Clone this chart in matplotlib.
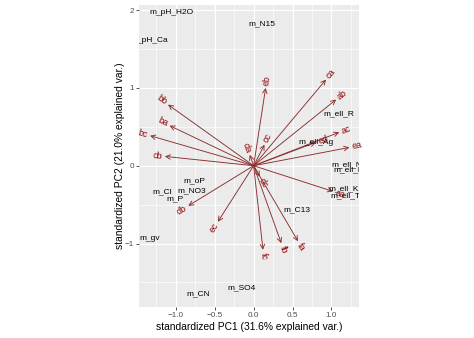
import numpy as np
import matplotlib.pyplot as plt

plt.rcParams['font.family'] = ['Liberation Sans', 'DejaVu Sans']

# sample scores (standardized PC1, PC2)
sample_names = ['m_pH_H2O', 'm_N15', 'm_pH_Ca', 'm_ell_R', 'm_ell_Ag', 'm_ell_Na',
                'm_ell_Mg', 'm_ell_K', 'm_ell_Ti', 'm_oP', 'm_Cl', 'm_NO3', 'm_P',
                'm_C13', 'm_gv', 'm_SO4', 'm_CN']
pc1 = [-1.06, 0.10, -1.336, 1.10, 0.80, 1.22, 1.26, 1.15, 1.19, -0.76, -1.18,
       -0.80, -1.01, 0.55, -1.33, -0.16, -0.71]
pc2 = [1.97, 1.83, 1.61, 0.67, 0.30, 0.013, -0.064, -0.29, -0.38, -0.19, -0.33,
       -0.32, -0.425, -0.566, -0.94, -1.57, -1.65]

# variable loadings (arrow tips)
var_names = ['bb', 'ba', 'bc', 'cb', 'db', 'ec', 'fc', 'fb', 'fa', 'aa', 'ea',
             'ac', 'ed', 'ab', 'ca', 'eb', 'cc', 'da', 'dc']
var_x = [-1.10, -1.08, -1.33, -1.14, -0.84, -0.46, 0.12, 0.355, 0.57, 1.02, 1.23,
         1.10, 0.80, 1.06, 0.93, 0.154, 0.14, -0.05, 0.08]
var_y = [0.785, 0.515, 0.386, 0.12, -0.515, -0.72, -1.08, -0.995, -0.97, -0.33,
         0.235, 0.43, 0.30, 0.85, 1.107, 1.0, 0.27, 0.14, -0.14]

fig = plt.figure(figsize=(4.74, 3.38), dpi=100)
ax = fig.add_axes([0.2932, 0.0917, 0.4641, 0.8935])
ax.set_facecolor('#EBEBEB')
ax.set_xlim(-1.47, 1.35)
ax.set_ylim(-1.815, 2.065)
ax.set_aspect('equal')

ax.set_xticks([-1.0, -0.5, 0.0, 0.5, 1.0])
ax.set_yticks([-1, 0, 1, 2])
ax.set_xticks([-1.25, -0.75, -0.25, 0.25, 0.75, 1.25], minor=True)
ax.set_yticks([-1.5, -0.5, 0.5, 1.5], minor=True)
ax.grid(which='major', color='white', lw=0.9)
ax.grid(which='minor', color='white', lw=0.45)
ax.set_axisbelow(True)
for s in ax.spines.values():
    s.set_visible(False)
ax.tick_params(which='major', length=2, width=0.6, color='#333333',
               labelsize=5.9, labelcolor='#4D4D4D', pad=1.5)
ax.tick_params(which='minor', length=0)

arrow_col = '#8A2E2E'
for vx, vy in zip(var_x, var_y):
    ax.annotate('', xy=(vx, vy), xytext=(0, 0),
                arrowprops=dict(arrowstyle='->', color=arrow_col, lw=0.65,
                                mutation_scale=8, shrinkA=0, shrinkB=0))

for name, x, y in zip(sample_names, pc1, pc2):
    ax.text(x, y, name, fontsize=6, ha='center', va='center', clip_on=True)

for name, vx, vy in zip(var_names, var_x, var_y):
    ang = np.degrees(np.arctan(vy / vx))
    d = np.arctan2(vy, vx)
    off = 2.0
    ax.annotate(name, xy=(vx, vy), xytext=(off * np.cos(d), off * np.sin(d)),
                textcoords='offset points', color='darkred', fontsize=6.5,
                rotation=ang, rotation_mode='anchor',
                ha='left' if vx > 0 else 'right', va='center',
                annotation_clip=True)

ax.set_xlabel('standardized PC1 (31.6% explained var.)', fontsize=7.4, labelpad=2)
ax.set_ylabel('standardized PC2 (21.0% explained var.)', fontsize=7.4, labelpad=0)

fig.savefig('out.png', dpi=100)
